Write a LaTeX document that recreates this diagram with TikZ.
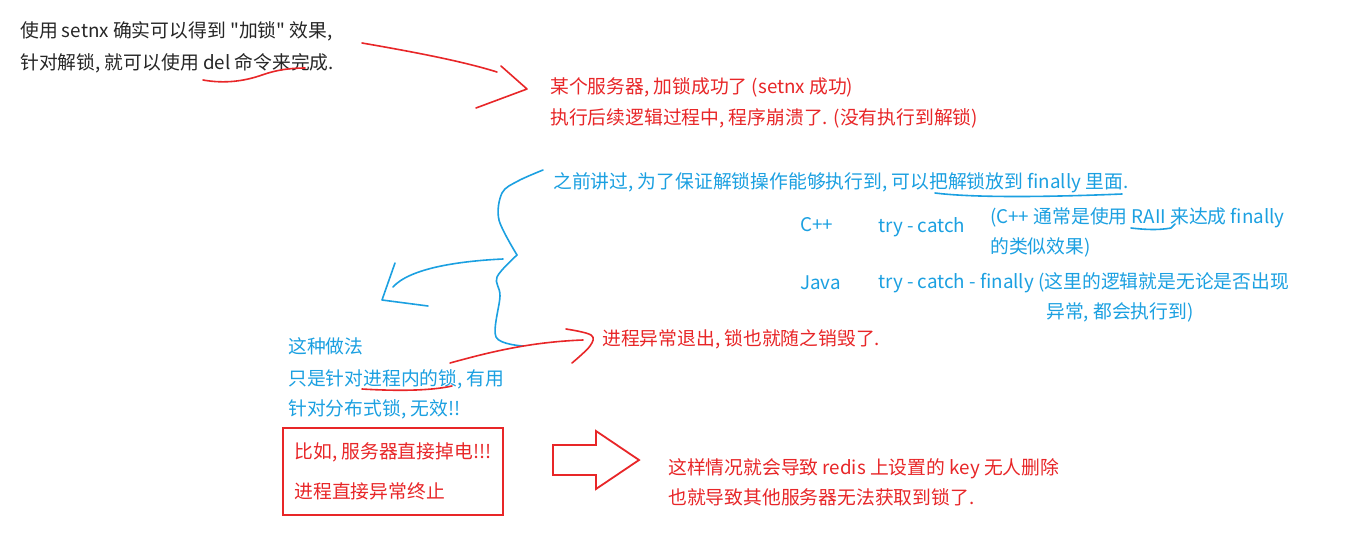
\documentclass[tikz,border=0pt]{standalone}
\usepackage{fontspec}
\setmainfont{Noto Sans CJK SC}[Ligatures=TeXOff]
\usetikzlibrary{positioning}
\definecolor{penred}{RGB}{232,38,40}
\definecolor{penblue}{RGB}{27,160,225}

\begin{document}
\begin{tikzpicture}[x=1pt, y=-1pt, font=\fontsize{18.8pt}{31pt}\selectfont,
  txt/.style={anchor=base west, align=left, inner sep=0pt},
  bk/.style={txt, text=black!85},
  rd/.style={txt, text=penred},
  bl/.style={txt, text=penblue},
  rpen/.style={draw=penred, line width=1.6pt, line cap=round, line join=round},
  bpen/.style={draw=penblue, line width=1.6pt, line cap=round, line join=round}]
\fill[white] (0,0) rectangle (1352,544);
\useasboundingbox (0,0) rectangle (1352,544);

% notes (base = last line)
\node[bk] (intro) at (20,69) {使用 setnx 确实可以得到 "加锁" 效果,\\[1pt]针对解锁, 就可以使用 del 命令来完成.};
\node[rd] (crash) at (550,124) {某个服务器, 加锁成功了 (setnx 成功)\\执行后续逻辑过程中, 程序崩溃了. (没有执行到解锁)};
\node[bl] (fin) at (553,188) {之前讲过, 为了保证解锁操作能够执行到, 可以把解锁放到 finally 里面.};
\node[bl] (cpp) at (800,231) {C++};
\node[bl] (tc) at (878,232) {try - catch};
\node[bl] (raii) at (990,253) {(C++ 通常是使用 RAII 来达成 finally\\[-1pt]的类似效果)};
\node[bl] (java) at (800,289) {Java};
\node[bl] (tcf) at (878,288) {try - catch - finally (这里的逻辑就是无论是否出现};
\node[bl] (always) at (1046,318) {异常, 都会执行到)};
\node[rd] (exit) at (602,345) {进程异常退出, 锁也就随之销毁了.};
\node[bl] (local) at (288,415) {这种做法\\[1pt]只是针对进程内的锁, 有用\\[-1pt]针对分布式锁, 无效!!};
\node[rd, anchor=center, draw=penred, line width=1.8pt, minimum width=220pt, minimum height=87pt] (power) at (393,471.5) {比如, 服务器直接掉电!!!\\[9pt]进程直接异常终止};
\node[rd] (leak) at (668,504) {这样情况就会导致 redis 上设置的 key 无人删除\\[-1pt]也就导致其他服务器无法获取到锁了.};

% hand strokes
\coordinate (a1) at (362,43);
\coordinate (a1tip) at (527,89);
\draw[rpen] (a1) .. controls (420,53) and (465,62) .. (497,72);
\draw[rpen] (501,66) -- (a1tip) -- (476,108);
\draw[rpen] (203,80) .. controls (225,84) and (245,81) .. (262,75) .. controls (276,70) and (290,68) .. (305,68);

\draw[bpen] plot[smooth, tension=0.55] coordinates {(543,170) (518,181) (502,193) (499,220) (517,255)};
\draw[bpen] plot[smooth, tension=0.55] coordinates {(517,255) (497,277) (500,296) (496,337) (523,346)};
\coordinate (b1tip) at (382,300);
\draw[bpen] (503,259) .. controls (460,261) and (410,268) .. (393,287);
\draw[bpen] (395,263) -- (b1tip) -- (428,306);
\draw[bpen] (935,193) .. controls (975,198) and (1050,197) .. (1122,194);
\draw[bpen] (1131,228) .. controls (1148,230) and (1160,230) .. (1171,228) -- (1175,224);

\coordinate (a2) at (450,363);
\draw[rpen] (a2) .. controls (490,352) and (530,342) .. (583,340);
\draw[rpen] plot[smooth, tension=0.6] coordinates {(566,329) (591,335) (590,346) (572,363)};
\draw[rpen] (362,389) .. controls (395,391) and (430,391) .. (452,386);

% hollow arrow
\draw[draw=penred, line width=1.8pt, line join=miter] (553,445) -- (596,445) -- (596,431) -- (639,460) -- (596,489) -- (596,475) -- (553,475) -- cycle;
\end{tikzpicture}
\end{document}
